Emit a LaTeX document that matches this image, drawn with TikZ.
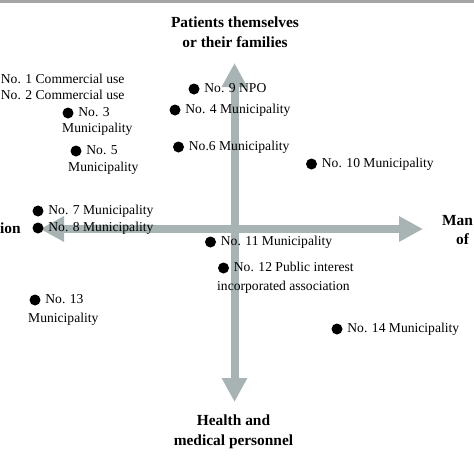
\documentclass[tikz,border=0pt]{standalone}
\usepackage{fontspec}
\setmainfont{Liberation Serif}
\usetikzlibrary{arrows.meta,positioning}
\definecolor{axisgray}{RGB}{168,180,180}
\definecolor{framegray}{RGB}{165,165,165}
\tikzset{
  axis/.style={line width=8pt, draw=axisgray,
    {Triangle[width=24pt,length=24pt]}-{Triangle[width=24pt,length=24pt]}},
  spot/.style={circle, fill=black, inner sep=0pt, minimum size=11pt},
  lbl/.style={font=\fontsize{13.6}{16}\selectfont, inner sep=0pt, anchor=west,
    text height=9.5pt, text depth=3pt},
  axlbl/.style={font=\fontsize{15.4}{19.5}\selectfont\bfseries, align=center, inner sep=0pt}
}
\begin{document}
\begin{tikzpicture}[x=1pt,y=-1pt]
  \useasboundingbox (0,0) rectangle (474,474);
  \clip (0,0) rectangle (474,474);

  % Frame edge at the top
  \fill[framegray] (0,0) rectangle (474,2.5);

  % Axes
  \coordinate (axtop) at (234.5,63);
  \coordinate (axbot) at (234.5,402);
  \coordinate (axleft) at (40,229);
  \coordinate (axright) at (423,229);
  \draw[axis] (axtop) -- (axbot);
  \draw[axis] (axleft) -- (axright);

  % Axis labels
  \node[axlbl] (toplbl) at (235,32) {Patients themselves\\or their families};
  \node[axlbl] (botlbl) at (233.5,432) {Health and\\medical personnel};
  \node[axlbl, anchor=west] (leftlbl) at (0,228) {ion};
  \node[axlbl, anchor=west] (rightlbl) at (442,221) {Man};
  \node[axlbl, anchor=west] (rightlbl2) at (456,239) {of};

  % Cases
  \node[spot] (d1) at (-9.5,80) {};
  \node[lbl, right=4.5pt of d1] (n1) {No. 1 Commercial use};
  \node[spot] (d2) at (-9.5,96) {};
  \node[lbl, right=4.5pt of d2] (n2) {No. 2 Commercial use};
  \node[spot] (d3) at (68,113) {};
  \node[lbl, right=4.5pt of d3] (n3) {No. 3};
  \node[lbl] (m3) at (62,129) {Municipality};
  \node[spot] (d4) at (175,110) {};
  \node[lbl, right=4.5pt of d4] (n4) {No. 4 Municipality};
  \node[spot] (d5) at (76,151) {};
  \node[lbl, right=4.5pt of d5] (n5) {No. 5};
  \node[lbl] (m5) at (68,168) {Municipality};
  \node[spot] (d6) at (178.5,147) {};
  \node[lbl, right=4.5pt of d6] (n6) {No.6 Municipality};
  \node[spot] (d7) at (38,211) {};
  \node[lbl, right=4.5pt of d7] (n7) {No. 7 Municipality};
  \node[spot] (d8) at (38,228) {};
  \node[lbl, right=4.5pt of d8] (n8) {No. 8 Municipality};
  \node[spot] (d9) at (194,89) {};
  \node[lbl, right=4.5pt of d9] (n9) {No. 9 NPO};
  \node[spot] (d10) at (311.5,164) {};
  \node[lbl, right=4.5pt of d10] (n10) {No. 10 Municipality};
  \node[spot] (d11) at (210.5,242) {};
  \node[lbl, right=4.5pt of d11] (n11) {No. 11 Municipality};
  \node[spot] (d12) at (223.5,268) {};
  \node[lbl, right=4.5pt of d12] (n12) {No. 12 Public interest};
  \node[lbl] (m12) at (217,287) {incorporated association};
  \node[spot] (d13) at (35,300) {};
  \node[lbl, right=4.5pt of d13] (n13) {No. 13};
  \node[lbl] (m13) at (28,319) {Municipality};
  \node[spot] (d14) at (337,329) {};
  \node[lbl, right=4.5pt of d14] (n14) {No. 14 Municipality};
\end{tikzpicture}
\end{document}
